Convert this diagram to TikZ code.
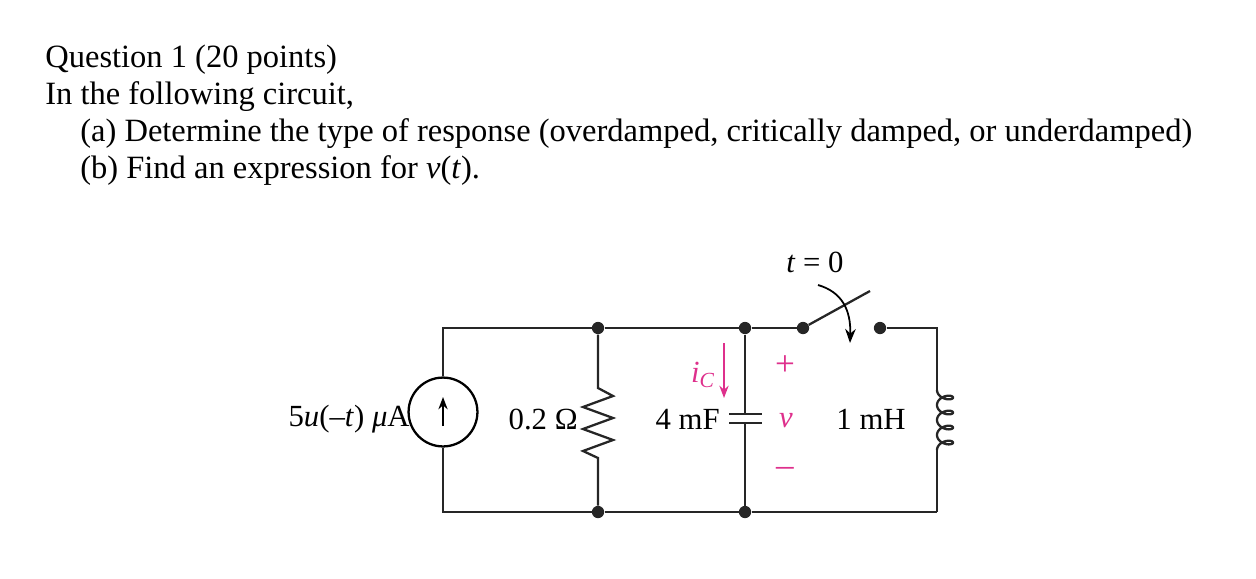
\documentclass[tikz,border=0pt]{standalone}
\usepackage{fontspec}
\setmainfont{Liberation Serif}
\usetikzlibrary{arrows.meta}
\definecolor{mag}{RGB}{222,48,140}
\begin{document}
\begin{tikzpicture}[x=0.02cm,y=-0.02cm,
  w/.style={line width=1.3pt,black!85},
  dot/.style={circle,fill=black!85,inner sep=0pt,minimum size=7pt},
  q/.style={font=\fontsize{18.5}{22}\selectfont,anchor=west,inner sep=0pt},
  lab/.style={font=\fontsize{17.5}{20}\selectfont,inner sep=0pt}]
\useasboundingbox (0,0) rectangle (1256,578);
\node[q] (l1) at (45,60) {Question 1 (20 points)};
\node[q] (l2) at (45,97) {In the following circuit,};
\node[q] (l3) at (80,134) {(a) Determine the type of response (overdamped, critically damped, or underdamped)};
\node[q] (l4) at (80,171) {(b) Find an expression for \textit{v}(\textit{t}).};
% nodes
\coordinate (tl) at (443,328); \coordinate (bl) at (443,512);
\node[dot] (rt) at (598,328) {}; \node[dot] (rb) at (598,512) {};
\node[dot] (ct) at (745,328) {}; \node[dot] (cb) at (745,512) {};
\node[dot] (s1) at (803,328) {}; \node[dot] (s2) at (880,328) {};
\coordinate (tr) at (937,328); \coordinate (br) at (937,512);
\node[circle,draw,line width=1.3pt,minimum size=56pt*0.7,inner sep=0pt] (src) at (443,412) {};
% wires
\draw[w] (src.north) -- (tl) -- (rt) -- (ct) -- (s1);
\draw[w] (src.south) -- (bl) -- (rb) -- (cb) -- (br);
\draw[w] (s2) -- (tr) -- (937,390);
\draw[w] (937,450) -- (br);
\draw[-{Stealth[length=7pt]},line width=1pt] (443,426) -- (443,397);
% resistor
\draw[w] (rt) -- (598,388) -- (613,396) -- (583,407) -- (613,418) -- (583,429) -- (613,440) -- (583,451) -- (598,458) -- (rb);
% capacitor
\draw[w] (ct) -- (745,414); \draw[w] (745,423) -- (cb);
\draw[w] (729,414) -- (762,414); \draw[w] (729,423) -- (762,423);
% inductor
\draw[w,smooth,samples=200,domain=0:1440,variable=\t]
  plot ({937+8*(1-cos(\t))},{390+0.0417*\t+5*sin(\t)});
% switch
\draw[w] (s1) -- (870,291);
\draw[-{Stealth[length=8pt]},line width=1pt] (818,285) .. controls (842,292) and (851,310) .. (850,343);
\node[lab] (t0) at (815,262) {\textit{t} = 0};
% labels
\node[lab,anchor=east] (ls) at (410,419) {5\textit{u}(–\textit{t}) \textit{μ}A};
\node[lab,anchor=east] (lr) at (578,419) {0.2 Ω};
\node[lab,anchor=east] (lc) at (720,419) {4 mF};
\node[lab,anchor=east] (li) at (906,419) {1 mH};
\node[lab,text=mag] (ic) at (703,375) {\textit{i}\textsubscript{\textit{C}}};
\draw[mag,line width=1.1pt,-{Stealth[length=7pt]}] (724,343) -- (724,398);
\node[lab,text=mag,font=\fontsize{20}{22}\selectfont] (pl) at (785,366) {+};
\node[lab,text=mag] (vv) at (786,421) {\textit{v}};
\node[lab,text=mag,font=\fontsize{20}{22}\selectfont] (mi) at (785,472) {–};
\end{tikzpicture}
\end{document}
